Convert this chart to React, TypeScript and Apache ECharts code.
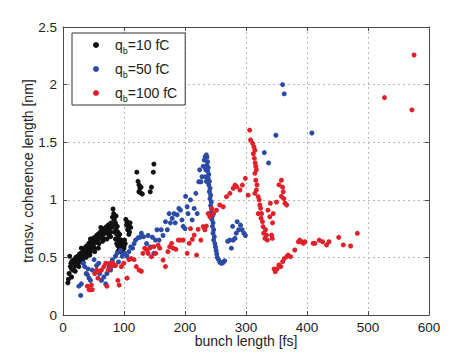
import React, { useEffect, useRef } from "react";
import * as echarts from "echarts";

const xTicks = [0, 100, 200, 300, 400, 500, 600];
const yTicks = [0, 0.5, 1, 1.5, 2, 2.5];

const seriesNames = ["q_b=10 fC", "q_b=50 fC", "q_b=100 fC"];
const legendParts: Record<string, [string, string, string]> = {
  "q_b=10 fC": ["q", "b", "=10 fC"],
  "q_b=50 fC": ["q", "b", "=50 fC"],
  "q_b=100 fC": ["q", "b", "=100 fC"],
};

const q10: number[][] = [
  [8, 0.28], [9, 0.31], [10, 0.36], [11, 0.51], [12, 0.42], [13, 0.45], [14, 0.4], [15, 0.47], [16, 0.39],
  [17, 0.44], [18, 0.48], [19, 0.42], [20, 0.46], [21, 0.5], [22, 0.44], [23, 0.47], [24, 0.51], [25, 0.45],
  [26, 0.49], [27, 0.53], [28, 0.47], [29, 0.5], [30, 0.54], [31, 0.48], [32, 0.52], [33, 0.55], [34, 0.5],
  [35, 0.57], [36, 0.53], [37, 0.59], [38, 0.55], [39, 0.6], [40, 0.52], [41, 0.57], [42, 0.62], [43, 0.58],
  [44, 0.63], [45, 0.55], [46, 0.61], [47, 0.58], [48, 0.65], [49, 0.6], [50, 0.67], [51, 0.62], [52, 0.58],
  [53, 0.66], [54, 0.63], [55, 0.69], [56, 0.65], [57, 0.7], [58, 0.66], [59, 0.62], [60, 0.68], [61, 0.72],
  [62, 0.67], [63, 0.73], [64, 0.69], [65, 0.75], [66, 0.7], [67, 0.74], [68, 0.66], [69, 0.72], [70, 0.76],
  [71, 0.71], [72, 0.77], [73, 0.73], [74, 0.78], [75, 0.75], [76, 0.69], [77, 0.79], [78, 0.68], [79, 0.8],
  [80, 0.76], [81, 0.85], [82, 0.92], [83, 0.88], [84, 0.83], [85, 0.78], [84, 0.72], [86, 0.66], [86, 0.8],
  [87, 0.86], [87, 0.74], [88, 0.7], [88, 0.62], [89, 0.77], [89, 0.66], [90, 0.72], [90, 0.6], [91, 0.68],
  [92, 0.64], [92, 0.57], [93, 0.7], [94, 0.62], [95, 0.58], [96, 0.65], [97, 0.6], [98, 0.56], [99, 0.62],
  [100, 0.58], [101, 0.65], [103, 0.83], [104, 0.78], [105, 0.81], [106, 0.74], [107, 0.77], [108, 0.7],
  [109, 0.72], [110, 0.8], [111, 0.76],
  [14, 0.33], [20, 0.38], [26, 0.42], [33, 0.46], [38, 0.5], [44, 0.52], [52, 0.55], [58, 0.58], [65, 0.64],
  [72, 0.66], [78, 0.72], [30, 0.58], [45, 0.66], [62, 0.76], [90, 0.55], [94, 0.55], [100, 0.6], [102, 0.62],
  [121, 1.24], [123, 1.16], [124.5, 1.13], [126, 1.1], [124.5, 1.07], [127.5, 1.06], [130, 1.05], [128, 1.11],
  [143, 1.07], [145, 1.11], [148, 1.24], [149, 1.31],
];

const q50: number[][] = [
  [29, 0.17], [26, 0.25], [30, 0.27], [33, 0.45], [35.5, 0.42], [38, 0.36], [40, 0.35], [42.7, 0.32],
  [45, 0.3], [41, 0.4], [48, 0.39], [51, 0.48], [55, 0.43], [58.5, 0.45], [60, 0.36], [63, 0.3], [67, 0.33],
  [70, 0.27], [72, 0.36], [75.5, 0.42], [78, 0.39], [81, 0.48], [84, 0.43], [86, 0.51], [88.6, 0.535],
  [91, 0.46], [94, 0.56], [97, 0.51], [101, 0.535], [105, 0.51], [108, 0.55], [111, 0.59], [114, 0.58],
  [116.5, 0.62], [119, 0.65], [123, 0.67], [126, 0.675], [128.5, 0.71], [132, 0.68], [137, 0.62],
  [139.5, 0.69], [143, 0.59], [146.6, 0.675], [149, 0.535], [151.5, 0.65], [154, 0.74], [157.5, 0.65],
  [161, 0.74], [164, 0.69], [168, 0.81], [171, 0.74], [174, 0.88], [176, 0.8], [179, 0.84], [182, 0.88],
  [184, 0.8], [187, 0.87], [190, 0.925], [192.5, 0.91], [195, 0.825], [197, 0.77], [200, 0.75], [201, 1.03],
  [203.5, 0.94], [205, 0.88], [209, 1.0], [211.7, 0.825], [215, 0.925], [217.7, 1.056], [220, 0.88],
  [222.6, 1.157], [224, 1.26], [226, 1.157], [228, 1.2], [229.8, 1.29], [231.5, 1.345], [233, 1.375],
  [235, 1.39], [236, 1.37], [237, 1.33], [236, 1.3], [238, 1.28], [237, 1.25], [239, 1.22], [238, 1.19],
  [240, 1.16], [239, 1.13], [241, 1.1], [240, 1.07], [242, 1.04], [241, 1.01], [243, 0.98], [242, 0.95],
  [244, 0.92], [243, 0.89], [245, 0.86], [244, 0.83], [246, 0.8], [245, 0.77], [247, 0.74], [246, 0.71],
  [248, 0.68], [247, 0.65], [249, 0.62], [250, 0.59], [251, 0.56], [252, 0.53], [253, 0.5], [255, 0.48],
  [257, 0.46], [259, 0.45], [261, 0.45], [263, 0.46], [265, 0.47], [234, 1.2], [234, 1.26], [235, 1.16],
  [270, 0.64], [273.5, 0.65], [276, 0.58], [278, 0.77], [279, 0.65], [282, 0.665], [284, 0.71], [285.5, 0.81],
  [288, 0.74], [291, 0.78], [293.6, 0.74], [296.5, 0.71], [299, 0.69],
  [330, 1.41], [337, 1.32], [349, 1.56], [360, 2.0], [362.7, 1.92], [408, 1.58],
];

const q100: number[][] = [
  [40, 0.25], [42.7, 0.22], [45, 0.22], [48, 0.22], [46.5, 0.26], [52, 0.36], [55, 0.39], [57.4, 0.32],
  [60, 0.38], [63, 0.39], [67, 0.42], [70, 0.45], [72, 0.25], [74, 0.39], [76.6, 0.45], [79, 0.42], [82, 0.45],
  [86, 0.43], [90, 0.3], [92, 0.26], [95.7, 0.42], [99.6, 0.45], [105, 0.32], [108, 0.48], [112, 0.49],
  [116.5, 0.48], [120, 0.42], [124.7, 0.39], [128.5, 0.38], [131, 0.535], [134, 0.58], [137, 0.565],
  [139.5, 0.535], [142, 0.58], [145, 0.506], [148.8, 0.593], [152, 0.535], [156, 0.607], [158.6, 0.58],
  [164, 0.477], [168, 0.42], [172, 0.55], [175, 0.593], [178, 0.622], [180.5, 0.58], [185, 0.57], [189, 0.65],
  [192.5, 0.65], [197, 0.65], [203.6, 0.535], [207, 0.622], [209, 0.75], [212, 0.657], [215, 0.694],
  [219, 0.52], [221.5, 0.744], [226, 0.65], [229.8, 0.767], [232.5, 0.74], [235, 0.772], [238, 0.88],
  [240.7, 0.853], [243.4, 0.926], [247, 0.88], [251.6, 0.91], [257, 0.955], [262.6, 0.94], [268, 1.027],
  [273.6, 1.056], [279, 1.1], [282, 1.128], [284.5, 1.114], [290, 1.085], [294, 1.128], [299, 1.186],
  [303.6, 1.04],
  [306, 1.605], [307.5, 1.52], [311, 1.49], [313, 1.46], [314.5, 1.43], [312, 1.4], [313.7, 1.36], [315, 1.32],
  [316, 1.29], [317, 1.26], [314.5, 1.23], [316, 1.17], [318, 1.13], [317, 1.085], [320, 1.027], [321.6, 1.0],
  [322.7, 0.955], [324, 0.926], [325.5, 0.88], [324.6, 0.84], [327, 0.81], [328, 0.767], [329, 0.71],
  [331, 0.665], [332, 0.74], [333.7, 0.694], [335, 0.65], [336, 0.91], [339, 0.853], [340, 0.97],
  [342, 0.694], [343, 0.665], [344.6, 0.88], [343.5, 0.8], [314.5, 1.056], [320, 0.88],
  [354, 1.13], [358, 1.17], [360, 1.11], [361, 1.07], [358, 1.03], [362, 1.01], [364, 0.97], [366.6, 0.955],
  [350, 0.98],
  [346, 0.4], [348, 0.376], [351, 0.4], [354, 0.434], [357, 0.42], [360, 0.463], [362.7, 0.49], [366.6, 0.506],
  [369, 0.52], [373, 0.506], [380, 0.564], [386, 0.636], [388, 0.65], [391, 0.636], [394, 0.622],
  [396.5, 0.636], [410, 0.622], [413, 0.622], [420, 0.65], [425.6, 0.636], [432, 0.608], [436, 0.636],
  [452, 0.674], [459.5, 0.608], [471.5, 0.599], [482.5, 0.709],
  [527, 1.887], [572, 1.78], [575.5, 2.257],
];

const seriesData = [q10, q50, q100];
const seriesColors = ["#111111", "#2b4ba6", "#e3202a"];

const FONT = "'Liberation Sans', Arial, sans-serif";

export default function App() {
  const ref = useRef<HTMLDivElement>(null);
  useEffect(() => {
    if (!ref.current) return;
    const chart = echarts.init(ref.current, null, { renderer: "svg" });
    const axisLineStyle = { color: "#4a4a4a", width: 1 };
    chart.setOption({
      animation: false,
      backgroundColor: "#ffffff",
      textStyle: { fontFamily: FONT },
      grid: { left: 63, right: 45, top: 27, bottom: 39, containLabel: false },
      legend: {
        orient: "vertical",
        left: 72,
        top: 33,
        data: seriesNames,
        icon: "circle",
        itemWidth: 6,
        itemHeight: 6,
        itemGap: 7,
        padding: [5, 8, 2, 21],
        borderColor: "#333",
        borderWidth: 1,
        backgroundColor: "#fff",
        formatter: (name: string) => {
          const p = legendParts[name];
          return `{a|${p[0]}}{s|${p[1]}}{a|${p[2]}}`;
        },
        textStyle: {
          padding: [0, 0, 0, 11],
          rich: {
            a: { fontSize: 14, fontFamily: FONT, color: "#222", lineHeight: 20, verticalAlign: "middle" },
            s: { fontSize: 9, fontFamily: FONT, color: "#222", lineHeight: 6, verticalAlign: "bottom" },
          },
        },
      },
      xAxis: [
        {
          type: "value",
          min: xTicks[0],
          max: xTicks[xTicks.length - 1],
          interval: xTicks[1] - xTicks[0],
          name: "bunch length [fs]",
          nameLocation: "middle",
          nameGap: 19,
          nameMoveOverlap: false,
          nameTextStyle: { fontSize: 14, color: "#222", fontFamily: FONT },
          axisLine: { show: true, onZero: false, lineStyle: axisLineStyle },
          axisTick: { show: true, inside: true, length: 4, lineStyle: axisLineStyle },
          axisLabel: { fontSize: 13.5, color: "#222", margin: 5, fontFamily: FONT },
          splitLine: { show: true, lineStyle: { type: [2, 3], color: "#b8b8b8", width: 1 } },
        },
        {
          type: "value",
          position: "top",
          min: xTicks[0],
          max: xTicks[xTicks.length - 1],
          interval: xTicks[1] - xTicks[0],
          axisLine: { show: true, onZero: false, lineStyle: axisLineStyle },
          axisTick: { show: true, inside: true, length: 4, lineStyle: axisLineStyle },
          axisLabel: { show: false },
          splitLine: { show: false },
        },
      ],
      yAxis: [
        {
          type: "value",
          min: yTicks[0],
          max: yTicks[yTicks.length - 1],
          interval: yTicks[1] - yTicks[0],
          name: "transv. coherence length [nm]",
          nameLocation: "middle",
          nameGap: 28,
          nameMoveOverlap: false,
          nameTextStyle: { fontSize: 14, color: "#222", fontFamily: FONT },
          axisLine: { show: true, onZero: false, lineStyle: axisLineStyle },
          axisTick: { show: true, inside: true, length: 4, lineStyle: axisLineStyle },
          axisLabel: { fontSize: 13.5, color: "#222", margin: 6, fontFamily: FONT },
          splitLine: { show: true, lineStyle: { type: [2, 3], color: "#b8b8b8", width: 1 } },
        },
        {
          type: "value",
          position: "right",
          min: yTicks[0],
          max: yTicks[yTicks.length - 1],
          interval: yTicks[1] - yTicks[0],
          axisLine: { show: true, onZero: false, lineStyle: axisLineStyle },
          axisTick: { show: true, inside: true, length: 4, lineStyle: axisLineStyle },
          axisLabel: { show: false },
          splitLine: { show: false },
        },
      ],
      series: seriesNames.map((name, i) => ({
        name,
        type: "scatter",
        xAxisIndex: 0,
        yAxisIndex: 0,
        data: seriesData[i],
        symbol: "circle",
        symbolSize: 5,
        itemStyle: { color: seriesColors[i], opacity: 1 },
      })),
    });
    return () => chart.dispose();
  }, []);
  return (
    <div
      ref={ref}
      style={{ position: "fixed", left: 0, top: 0, width: 474, height: 354, background: "#fff" }}
    />
  );
}
